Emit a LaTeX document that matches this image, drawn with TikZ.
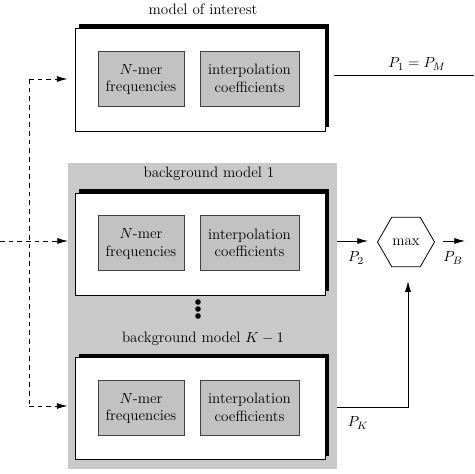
\documentclass[tikz,border=0pt]{standalone}
\usetikzlibrary{shapes.geometric,arrows.meta,shadows,calc}
\begin{document}
\begin{tikzpicture}[x=0.75pt,y=-0.75pt,
  every node/.style={font=\fontsize{11.3}{13}\selectfont},
  modelbox/.style={draw=black,line width=0.7pt,fill=white,minimum width=187.5pt,minimum height=76.5pt,inner sep=0pt,
    general shadow={fill=black,shadow xshift=3pt,shadow yshift=3pt}},
  partbox/.style={draw=black!75,line width=0.5pt,fill=black!24,minimum height=41.25pt,inner sep=0pt,align=center},
  conn/.style={line width=0.6pt},
  tip/.style={-{Latex[length=8pt,width=4.5pt]}},
  dashconn/.style={line width=0.6pt,dash pattern=on 3.5pt off 3pt},
  lab/.style={inner sep=0pt}]
\useasboundingbox (0,0) rectangle (474,474);
% gray background region
\node[fill=black!21,minimum width=201.75pt,minimum height=229.5pt,inner sep=0pt] (bgregion) at (202.5,316) {};
% titles
\node[lab] (t0) at (203,9) {model of interest};
\node[lab] (t1) at (209,174) {background model 1};
\node[lab] (t2) at (203,339) {background model $K-1$};
% model boxes
\node[modelbox,minimum height=77.25pt] (m0) at (200,79.5) {};
\node[modelbox] (m1) at (200,244) {};
\node[modelbox] (m2) at (200,408.5) {};
% inner boxes
\foreach \m in {m0,m1,m2}{
  \node[partbox,minimum width=64.5pt] (\m n) at ($(\m.center)+(-59,-1)$) {\strut$N$-mer\\frequencies};
  \node[partbox,minimum width=74.25pt] (\m i) at ($(\m.center)+(49.5,-1)$) {interpolation\\coefficients};
}
% dots
\foreach \y in {302,309,316} \fill (198,\y) circle (2.1pt);
% input dashed connectors
\coordinate (inL) at (0,241);
\coordinate (vtop) at (29,79);
\coordinate (vbot) at (29,406);
\draw[dashconn,tip] (inL) -- (68,241);
\draw[dashconn] (vtop) -- (vbot);
\draw[dashconn,tip,shorten >=5.25pt] (vtop) -- (vtop -| m0.west);
\draw[dashconn,tip,shorten >=5.25pt] (vbot) -- (vbot -| m2.west);
% hexagon
\node[draw,regular polygon,regular polygon sides=6,minimum size=42.75pt,inner sep=0pt,line width=0.6pt] (hex) at (406,242) {max};
% outputs
\coordinate (outTop) at (474,75);
\draw[conn] ($(m0.east)+(9,-4.5)$) -- (outTop);
\node[lab] (p1) at (417,64) {$P_1 = P_M$};
\draw[conn,tip] (bgregion.east |- 0,241) -- (368,241);
\node[lab] (p2) at (356,258) {$P_2$};
\draw[conn,tip] (hex.east |- 0,241) ++(8,0) -- (465,241);
\node[lab] (pb) at (453,258) {$P_B$};
\coordinate (corner) at (408,407);
\draw[conn,tip,shorten >=10.5pt] (bgregion.east |- corner) -- (corner) -- (corner |- hex.south);
\node[lab] (pk) at (358,423) {$P_K$};
\end{tikzpicture}
\end{document}
